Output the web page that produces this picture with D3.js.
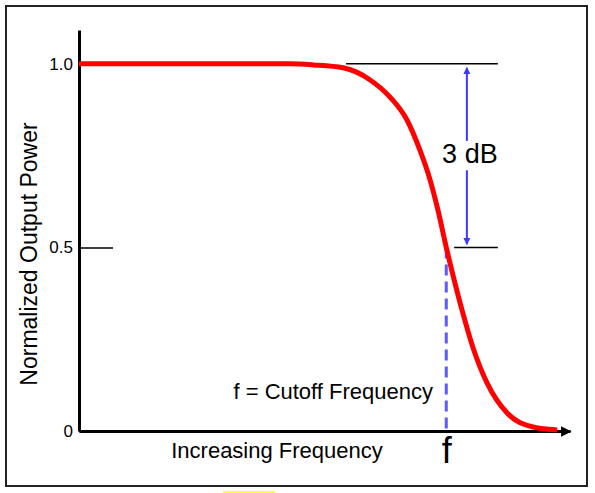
<!DOCTYPE html>
<html>
<head>
<meta charset="utf-8">
<script src="https://cdn.jsdelivr.net/npm/d3@7"></script>
<style>
  body { margin: 0; background: #fff; }
  svg { display: block; font-family: "Liberation Sans", Arial, sans-serif; }
</style>
</head>
<body>
<div id="chart"></div>
<script>
'use strict';

var w = 595;
var h = 493;

// response curve, frequency in arbitrary units
var freq = [0, 4.3, 4.77, 5.38, 5.93, 6.33, 6.68, 6.94, 7.15, 7.31, 7.48, 7.59, 7.8, 8.02, 8.31, 8.72, 9.25, 9.74];
var power = [1, 1, 0.997, 0.989, 0.956, 0.91, 0.847, 0.766, 0.684, 0.602, 0.5, 0.439, 0.33, 0.229, 0.131, 0.049, 0.011, 0.003];

var yTicks = [0, 0.5, 1.0];
var yTickLabels = ['0', '0.5', '1.0'];

var cutoff = 7.48;
var cutoffLabel = 'f';

// horizontal guide lines for the 3 dB span
var guideLevel = [1.0, 0.5];
var guideStart = [5.44, 7.64];
var guideEnd = 8.53;
var dbArrowAt = 7.9;
// arrow pieces: [from, to], leaving a gap for the label
var dbArrowFrom = [0.79, 0.71];
var dbArrowTo = [1.0, 0.5];

var x = d3.scaleLinear().domain([0, 10]).range([79, 570]);
var y = d3.scaleLinear().domain([0, 1.092]).range([431, 30]);

var svg = d3.select('#chart').append('svg')
  .attr('width', w)
  .attr('height', h);

var defs = svg.append('defs');
defs.append('marker')
  .attr('id', 'axisHead')
  .attr('viewBox', '0 0 10 10')
  .attr('refX', 9).attr('refY', 5)
  .attr('markerWidth', 5).attr('markerHeight', 3.5)
  .attr('markerUnits', 'strokeWidth')
  .attr('orient', 'auto')
  .append('path').attr('d', 'M0,0 L10,5 L0,10 Z').attr('fill', '#000');
defs.append('marker')
  .attr('id', 'blueHead')
  .attr('viewBox', '0 0 10 10')
  .attr('refX', 9).attr('refY', 5)
  .attr('markerWidth', 4).attr('markerHeight', 3.5)
  .attr('markerUnits', 'strokeWidth')
  .attr('orient', 'auto')
  .append('path').attr('d', 'M0,0 L10,5 L0,10 Z').attr('fill', '#3a3aff');

// outer frame
svg.append('rect')
  .attr('x', 6).attr('y', 6)
  .attr('width', 581).attr('height', 480)
  .attr('fill', 'none')
  .attr('stroke', '#222')
  .attr('stroke-width', 2);

svg.append('rect')
  .attr('x', 223).attr('y', 491)
  .attr('width', 52).attr('height', 2)
  .attr('fill', '#ffff40');

// guide lines
svg.selectAll('.guide')
  .data(guideLevel)
  .enter().append('line')
  .attr('class', 'guide')
  .attr('x1', function(d, i) { return x(guideStart[i]); })
  .attr('x2', x(guideEnd))
  .attr('y1', function(d) { return y(d); })
  .attr('y2', function(d) { return y(d); })
  .attr('stroke', '#000')
  .attr('stroke-width', 1.5);

// 3 dB arrows
svg.selectAll('.dbarrow')
  .data(dbArrowFrom)
  .enter().append('line')
  .attr('class', 'dbarrow')
  .attr('x1', x(dbArrowAt)).attr('x2', x(dbArrowAt))
  .attr('y1', function(d) { return y(d); })
  .attr('y2', function(d, i) {
    return y(dbArrowTo[i]) + (dbArrowTo[i] > d ? 4 : -3);
  })
  .attr('stroke', '#3a3aff')
  .attr('stroke-width', 2)
  .attr('marker-end', 'url(#blueHead)');

svg.append('text')
  .attr('x', x(dbArrowAt) + 3)
  .attr('y', 163)
  .attr('text-anchor', 'middle')
  .attr('font-size', 27)
  .attr('fill', '#000')
  .text('3 dB');

// cutoff dashed line
svg.append('line')
  .attr('x1', x(cutoff)).attr('x2', x(cutoff))
  .attr('y1', y(0.5)).attr('y2', y(0))
  .attr('stroke', '#5b5bff')
  .attr('stroke-width', 3)
  .attr('stroke-dasharray', '11,6');

svg.append('text')
  .attr('x', 433)
  .attr('y', 399)
  .attr('text-anchor', 'end')
  .attr('font-size', 22)
  .attr('fill', '#000')
  .text('f = Cutoff Frequency');

// axes
var yAxis = d3.axisLeft(y)
  .tickValues(yTicks)
  .tickFormat(function(d, i) { return yTickLabels[i]; })
  .tickSizeInner(-34)
  .tickSizeOuter(0)
  .tickPadding(6);

var gy = svg.append('g')
  .attr('transform', 'translate(' + x(0) + ',0)')
  .call(yAxis);
gy.select('.domain').attr('stroke', '#000').attr('stroke-width', 3);
gy.selectAll('.tick line').attr('stroke', '#000').attr('stroke-width', 1.5);
gy.selectAll('.tick text')
  .attr('font-family', '"Liberation Sans", Arial, sans-serif')
  .attr('font-size', 17)
  .attr('fill', '#000');

var xAxis = d3.axisBottom(x)
  .tickValues([cutoff])
  .tickFormat(function() { return cutoffLabel; })
  .tickSize(0)
  .tickPadding(6);

var gx = svg.append('g')
  .attr('transform', 'translate(0,' + y(0) + ')')
  .call(xAxis);
gx.select('.domain')
  .attr('stroke', '#000')
  .attr('stroke-width', 3)
  .attr('marker-end', 'url(#axisHead)');
gx.selectAll('.tick text')
  .attr('font-family', '"Liberation Sans", Arial, sans-serif')
  .attr('font-size', 36)
  .attr('dy', '0.71em')
  .attr('fill', '#000');

// response curve
var line = d3.line()
  .x(function(d, i) { return x(freq[i]); })
  .y(function(d) { return y(d); })
  .curve(d3.curveMonotoneX);

svg.append('path')
  .datum(power)
  .attr('d', line)
  .attr('fill', 'none')
  .attr('stroke', '#ff0000')
  .attr('stroke-width', 5)
  .attr('stroke-linejoin', 'round');

// axis titles
svg.append('text')
  .attr('x', 277)
  .attr('y', 458)
  .attr('text-anchor', 'middle')
  .attr('font-size', 22)
  .attr('fill', '#000')
  .text('Increasing Frequency');

svg.append('text')
  .attr('transform', 'translate(37,254) rotate(-90)')
  .attr('text-anchor', 'middle')
  .attr('font-size', 23)
  .attr('fill', '#000')
  .text('Normalized Output Power');
</script>
</body>
</html>
